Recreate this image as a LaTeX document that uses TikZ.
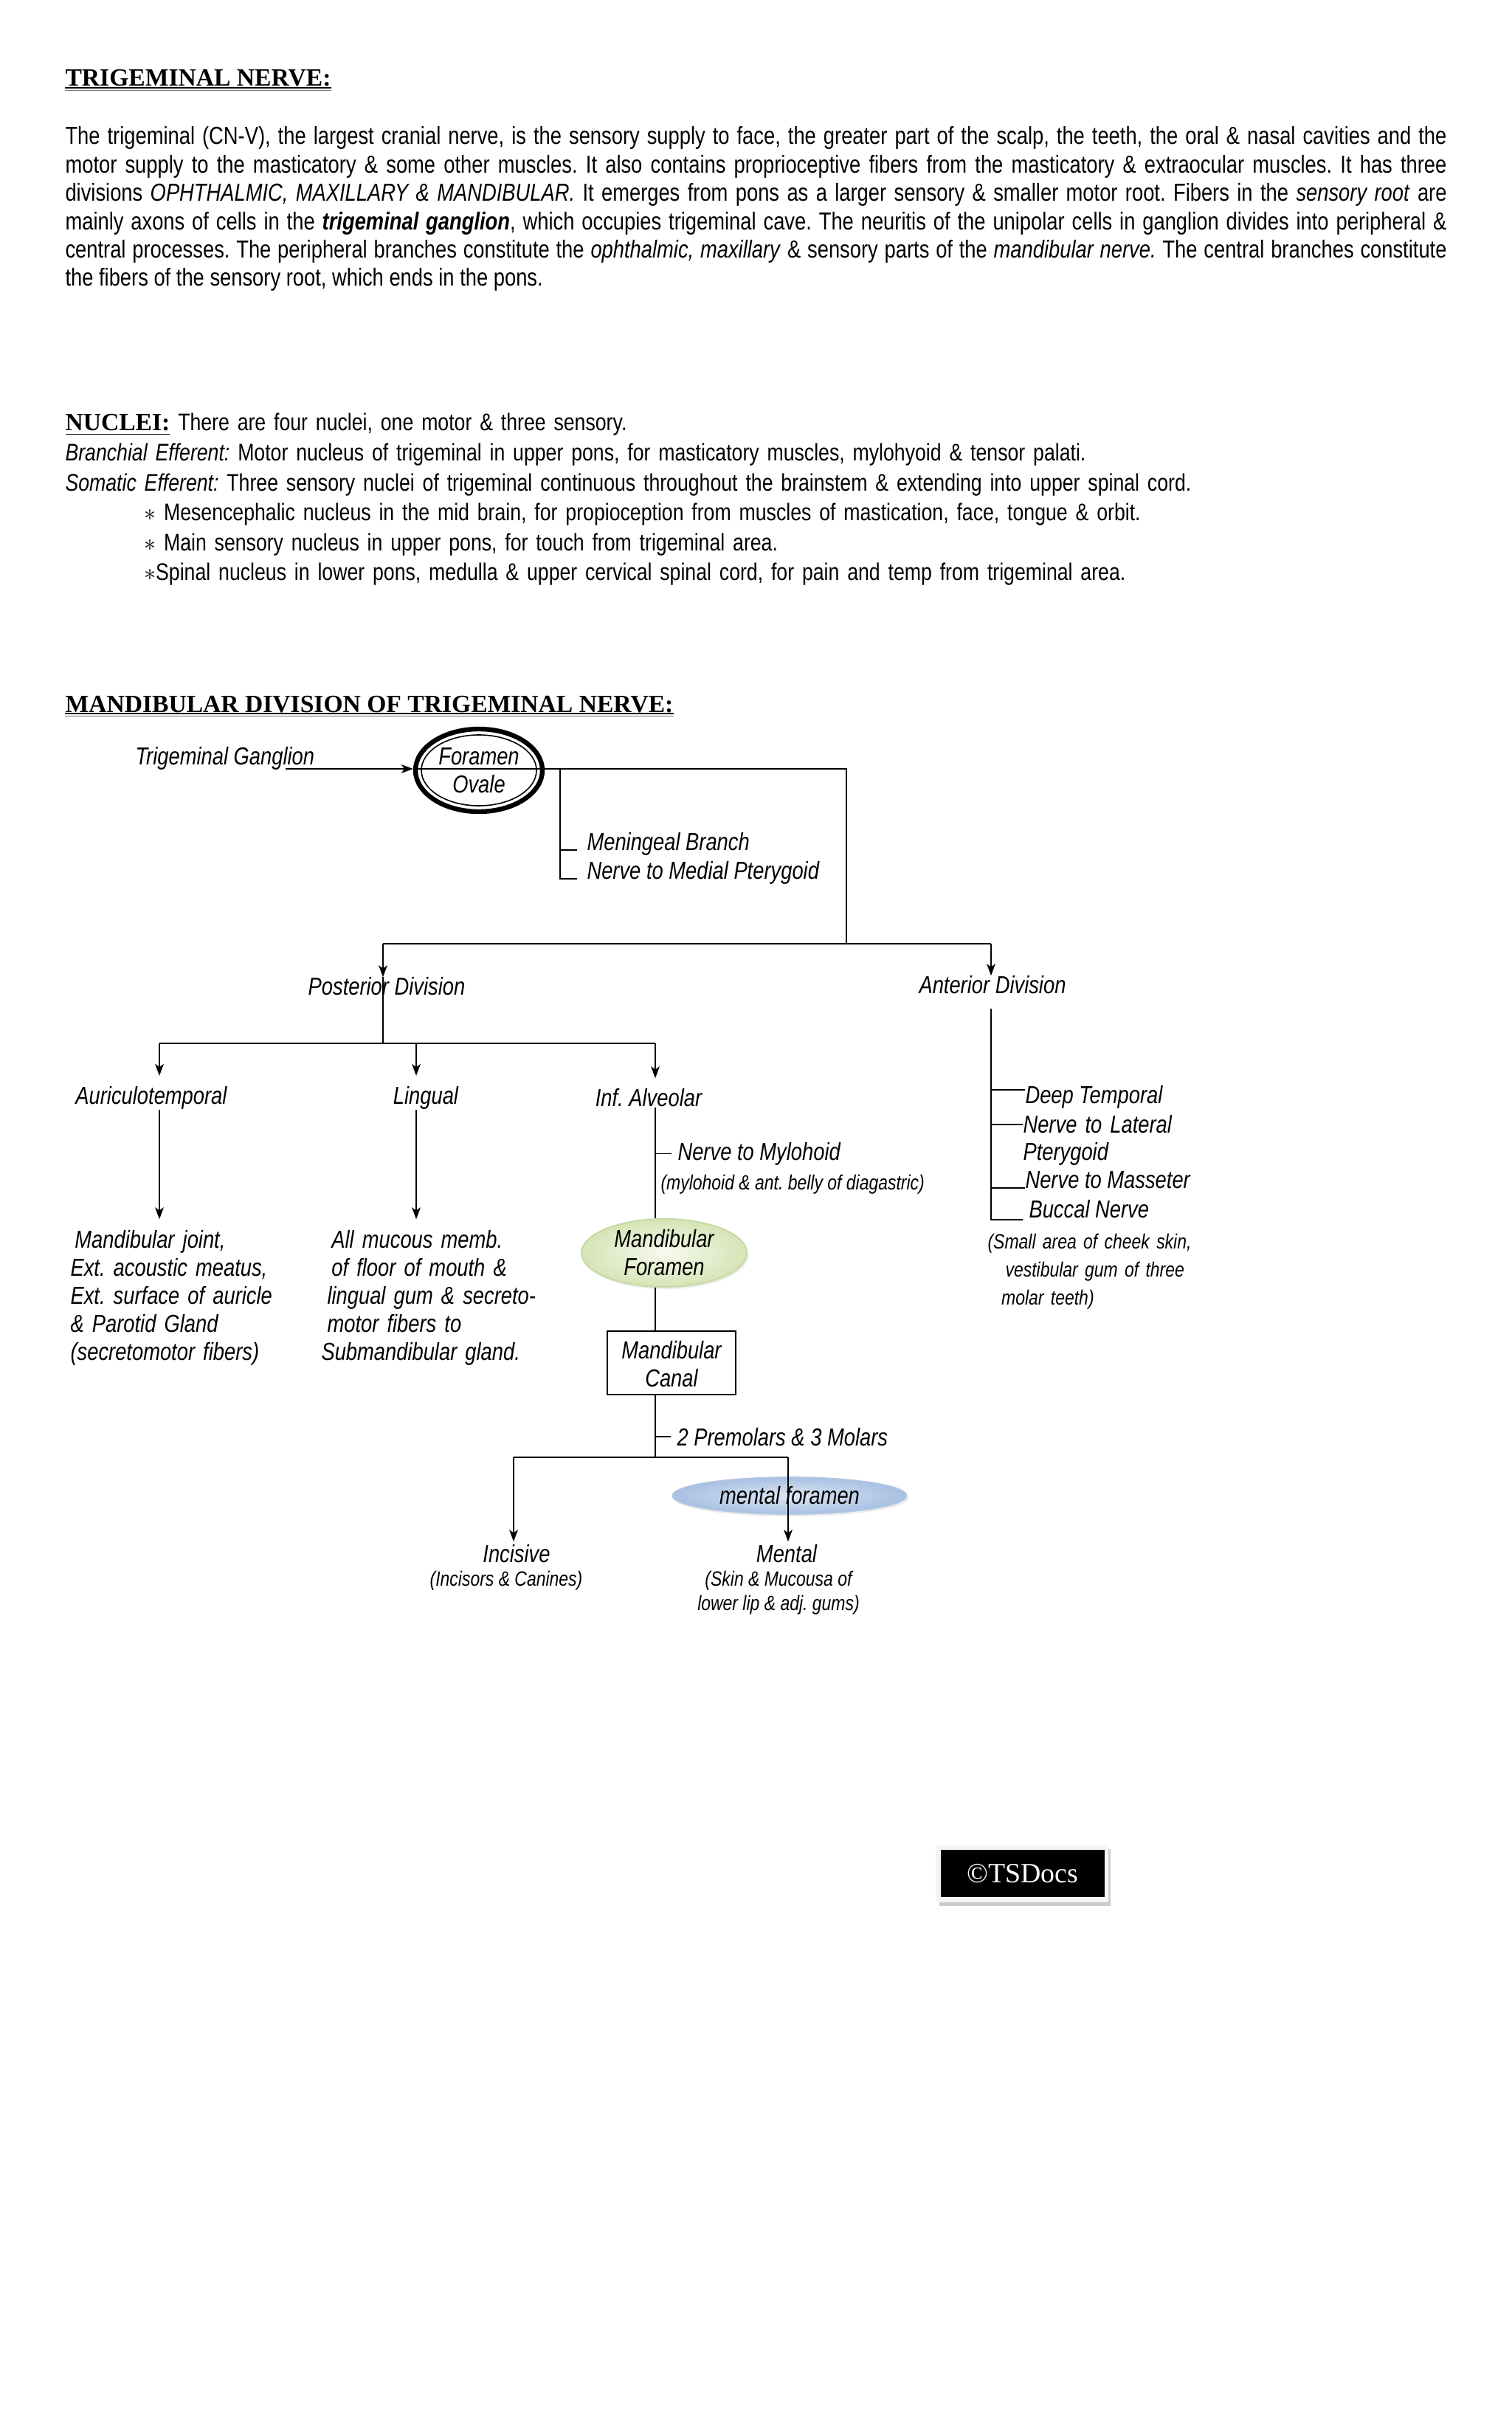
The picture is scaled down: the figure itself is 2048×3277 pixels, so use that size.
\documentclass[tikz,border=0pt]{standalone}
\usepackage{fontspec}
\setmainfont{Liberation Sans}[FakeStretch=0.82]
\newfontfamily\headfont{Liberation Serif}
\usetikzlibrary{positioning,arrows.meta,shapes.geometric,calc,shadows}
\definecolor{mandin}{HTML}{F7FAEF}
\definecolor{mandout}{HTML}{D6E4B6}
\definecolor{mandedge}{HTML}{C8DAA4}
\definecolor{mentin}{HTML}{DDE7F4}
\definecolor{mentout}{HTML}{A8C0E2}
\definecolor{mentedge}{HTML}{B3C7E3}
\newcommand{\diagfont}{\fontsize{12.5}{14.3}\selectfont}
\newcommand{\notefont}{\fontsize{10.5}{14.4}\selectfont}
\frenchspacing

\begin{document}
\begin{tikzpicture}[x=0.375pt, y=-0.375pt, >={Stealth[length=6pt,width=4.4pt,inset=1.6pt]},
  wire/.style={line width=0.65pt},
  lbl/.style={inner sep=0pt, font=\diagfont\itshape},
  note/.style={inner sep=0pt, font=\notefont\itshape},
  hd/.style={inner sep=0pt, anchor=base west, font=\headfont\fontsize{12.6}{14}\selectfont\bfseries},
  para/.style={inner sep=0pt, anchor=base west, font=\diagfont, text width=702pt},
  block/.style={lbl, anchor=base west, text width=190pt, align=left},
  foramen/.style={ellipse, inner sep=0pt, font=\diagfont\itshape, align=center,
    drop shadow={shadow xshift=0.8pt, shadow yshift=-1.2pt, opacity=0.15}}]
  \useasboundingbox (0,0) rectangle (2048,3277);
  \fill[white] (0,0) rectangle (2048,3277);

  \node[hd] (head1) at (88,117) {TRIGEMINAL NERVE:};
  \draw[line width=0.8pt] ([yshift=-0.9pt]head1.base west) -- ([yshift=-0.9pt]head1.base east);
  \draw[line width=0.45pt, black!55] ([yshift=-2.1pt]head1.base west) -- ([yshift=-2.1pt]head1.base east);

  \node[para, align=justify, font=\fontsize{12.5}{14.4}\selectfont] (intro) at (88,196)
    {The trigeminal (CN-V), the largest cranial nerve, is the sensory supply to face, the greater part of the scalp, the teeth, the oral \& nasal cavities and the\linebreak
     motor supply to the masticatory \& some other muscles. It also contains proprioceptive fibers from the masticatory \& extraocular muscles. It has three\linebreak
     divisions \textit{OPHTHALMIC, MAXILLARY \& MANDIBULAR.} It emerges from pons as a larger sensory \& smaller motor root. Fibers in the \textit{sensory root} are\linebreak
     mainly axons of cells in the \textbf{\textit{trigeminal ganglion}}, which occupies trigeminal cave. The neuritis of the unipolar cells in ganglion divides into peripheral \&\linebreak
     central processes. The peripheral branches constitute the \textit{ophthalmic, maxillary} \& sensory parts of the \textit{mandibular nerve.} The central branches constitute\linebreak
     the fibers of the sensory root, which ends in the pons.};

  \node[para, align=left, font=\fontsize{12.2}{15.2}\selectfont] (nuclei) at (88,584)
    {\underline{\headfont\fontsize{12.6}{15.2}\selectfont\bfseries NUCLEI:} There are four nuclei, one motor \& three sensory.\\
     \textit{Branchial Efferent:} Motor nucleus of trigeminal in upper pons, for masticatory muscles, mylohyoid \& tensor palati.\\
     \textit{Somatic Efferent:} Three sensory nuclei of trigeminal continuous throughout the brainstem \& extending into upper spinal cord.\\
     \hspace*{40pt}$\ast$ Mesencephalic nucleus in the mid brain, for propioception from muscles of mastication, face, tongue \& orbit.\\
     \hspace*{40pt}$\ast$ Main sensory nucleus in upper pons, for touch from trigeminal area.\\
     \hspace*{40pt}$\ast$Spinal nucleus in lower pons, medulla \& upper cervical spinal cord, for pain and temp from trigeminal area.};

  \node[hd] (head2) at (88,965) {MANDIBULAR DIVISION OF TRIGEMINAL NERVE:};
  \draw[line width=0.8pt] ([yshift=-0.9pt]head2.base west) -- ([yshift=-0.9pt]head2.base east);
  \draw[line width=0.45pt, black!55] ([yshift=-2.1pt]head2.base west) -- ([yshift=-2.1pt]head2.base east);

  \node[lbl, anchor=mid west] (ganglion) at (183,1029) {Trigeminal Ganglion};
  \node[ellipse, draw, line width=2.4pt, minimum width=64.5pt, minimum height=42pt, inner sep=0pt,
    align=center, font=\diagfont\itshape] (ovale) at (649,1044) {Foramen\\Ovale};
  \draw[line width=0.6pt] (ovale.center) ellipse [x radius=78, y radius=48];
  \coordinate (gs) at (387,1042);
  \coordinate (fork) at (1147,1279);
  \coordinate (mb) at (759,1042);
  \draw[wire,->] (gs) -- (gs -| ovale.west);
  \draw[wire] (gs -| ovale.west) -- (fork |- gs) -- (fork);

  \node[lbl, anchor=mid west] (menin) at (795,1145) {Meningeal Branch};
  \node[lbl, anchor=mid west] (medpt) at (795,1184) {Nerve to Medial Pterygoid};
  \coordinate (mnk) at ([xshift=-5pt]menin.base west);
  \coordinate (mpk) at ([xshift=-5pt]medpt.base west);
  \draw[wire] (mb) |- (mpk);
  \draw[wire] (mb |- mnk) -- (mnk);

  \node[lbl] (post) at (524,1337) {Posterior Division};
  \node[lbl] (ant) at (1345,1335) {Anterior Division};
  \coordinate (pk) at (519,1279);
  \coordinate (ak) at (1343,1279);
  \coordinate (pbar) at (519,1414);
  \draw[wire] (pk) -- (ak);
  \draw[wire,->] (pk) -- (pk |- post.north);
  \draw[wire] (pk |- post.north) -- (pbar);
  \draw[wire,->] (ak) -- (ak |- ant.north);

  \node[lbl] (auric) at (205,1488) {Auriculotemporal};
  \node[lbl] (ling) at (577,1488) {Lingual};
  \node[lbl] (alv) at (879,1488) {Inf. Alveolar};
  \coordinate (lk1) at (216,1414);
  \coordinate (lk2) at (564,1414);
  \coordinate (lk3) at (888,1414);
  \draw[wire] (lk1) -- (lk3);
  \draw[wire,->] (lk1) -- ($(lk1 |- auric.north)+(0,-14)$);
  \draw[wire,->] (lk2) -- ($(lk2 |- ling.north)+(0,-14)$);
  \draw[wire,->] (lk3) -- ($(lk3 |- alv.north)+(0,-14)$);

  \node[block] (auricto) at (95,1691) {\hspace*{2.2pt}Mandibular joint,\\Ext. acoustic meatus,\\Ext. surface of auricle\\\& Parotid Gland\\(secretomotor fibers)};
  \node[block] (lingto) at (435,1691) {\hspace*{5.2pt}All mucous memb.\\\hspace*{5.2pt}of floor of mouth \&\\\hspace*{3pt}lingual gum \& secreto-\\\hspace*{3pt}motor fibers to\\Submandibular gland.};
  \draw[wire,->] (lk1 |- auric.south) -- ($(lk1 |- auricto.north)+(0,-14)$);
  \draw[wire,->] (lk2 |- ling.south) -- ($(lk2 |- lingto.north)+(0,-14)$);

  \node[lbl, anchor=mid west] (mylo) at (918,1565) {Nerve to Mylohoid};
  \node[note, anchor=mid west] (mylonote) at (895,1605) {(mylohoid \& ant. belly of diagastric)};
  \node[foramen, minimum width=84pt, minimum height=34.5pt, inner color=mandin, outer color=mandout,
    draw=mandedge, line width=0.8pt] (mfor) at (900,1698) {Mandibular\\Foramen};
  \node[draw, line width=0.7pt, minimum width=65pt, minimum height=32pt, inner sep=0pt,
    align=center, font=\diagfont\itshape] (canal) at (910,1847) {\rule{0pt}{10pt}Mandibular\\Canal};
  \node[lbl, anchor=mid west] (molars) at (917,1952) {2 Premolars \& 3 Molars};
  \coordinate (tbar) at (888,1975);
  \draw[wire] (lk3 |- alv.south) -- (lk3 |- mfor.north);
  \draw[wire] (lk3 |- mylo.west) -- ([xshift=-3pt]mylo.west);
  \draw[wire] (lk3 |- mfor.south) -- (lk3 |- canal.north);
  \draw[wire] (lk3 |- canal.south) -- (tbar);
  \draw[wire] (tbar |- molars.west) -- ([xshift=-3pt]molars.west);

  \node[foramen, minimum width=119pt, minimum height=18.8pt, inner color=mentin, outer color=mentout,
    draw=mentedge, line width=0.6pt] (mentfor) at (1070,2027) {mental foramen};
  \node[lbl] (incis) at (700,2106) {Incisive};
  \node[note] (incisnote) at (686,2142) {(Incisors \& Canines)};
  \node[lbl] (ment) at (1066,2106) {Mental};
  \node[note, align=center, font=\fontsize{10.5}{12.4}\selectfont\itshape] (mentnote) at (1055,2159)
    {(Skin \& Mucousa of\\lower lip \& adj. gums)};
  \coordinate (ik) at (696,1975);
  \coordinate (mk) at (1068,1975);
  \draw[wire] (ik) -- (mk);
  \draw[wire,->] (ik) -- ($(ik |- incis.north)+(0,-4)$);
  \draw[wire,->] (mk) -- ($(mk |- ment.north)+(0,-4)$);

  \node[lbl, anchor=mid west] (deept) at (1389,1488) {Deep Temporal};
  \node[lbl, anchor=base west, text width=100pt, align=left, font=\fontsize{12.5}{13.9}\selectfont\itshape] (latpt) at (1386,1535) {Nerve to Lateral\\Pterygoid};
  \node[lbl, anchor=mid west] (mass) at (1389,1603) {Nerve to Masseter};
  \node[lbl, anchor=mid west] (bucc) at (1394,1643) {Buccal Nerve};
  \node[note, anchor=base west, text width=110pt, align=left] (buccnote) at (1338,1692)
    {(Small area of cheek skin,\\\hspace*{9pt}vestibular gum of three\\\hspace*{7pt}molar teeth)};
  \coordinate (atop) at (1343,1367);
  \coordinate (dtk) at ([yshift=-2.6pt]deept.north west);
  \coordinate (ltk) at ([yshift=4pt]latpt.base west);
  \coordinate (mtk) at (mass.base west);
  \coordinate (btk) at ([xshift=-3pt,yshift=-1pt]bucc.base west);
  \draw[wire] (atop) -- (atop |- btk) -- (btk);
  \draw[wire] (atop |- dtk) -- (dtk);
  \draw[wire] (atop |- ltk) -- (ltk);
  \draw[wire] (atop |- mtk) -- (mtk);

  \fill[black!20] (1273,2506) rectangle (1505,2583);
  \fill[black!4] (1268,2500) rectangle (1502,2578);
  \node[fill=black, text=white, minimum width=83pt, minimum height=24pt, inner sep=0pt,
    font=\headfont\fontsize{14.2}{15}\selectfont] (tsdocs) at (1386,2539) {©TSDocs};
\end{tikzpicture}
\end{document}
